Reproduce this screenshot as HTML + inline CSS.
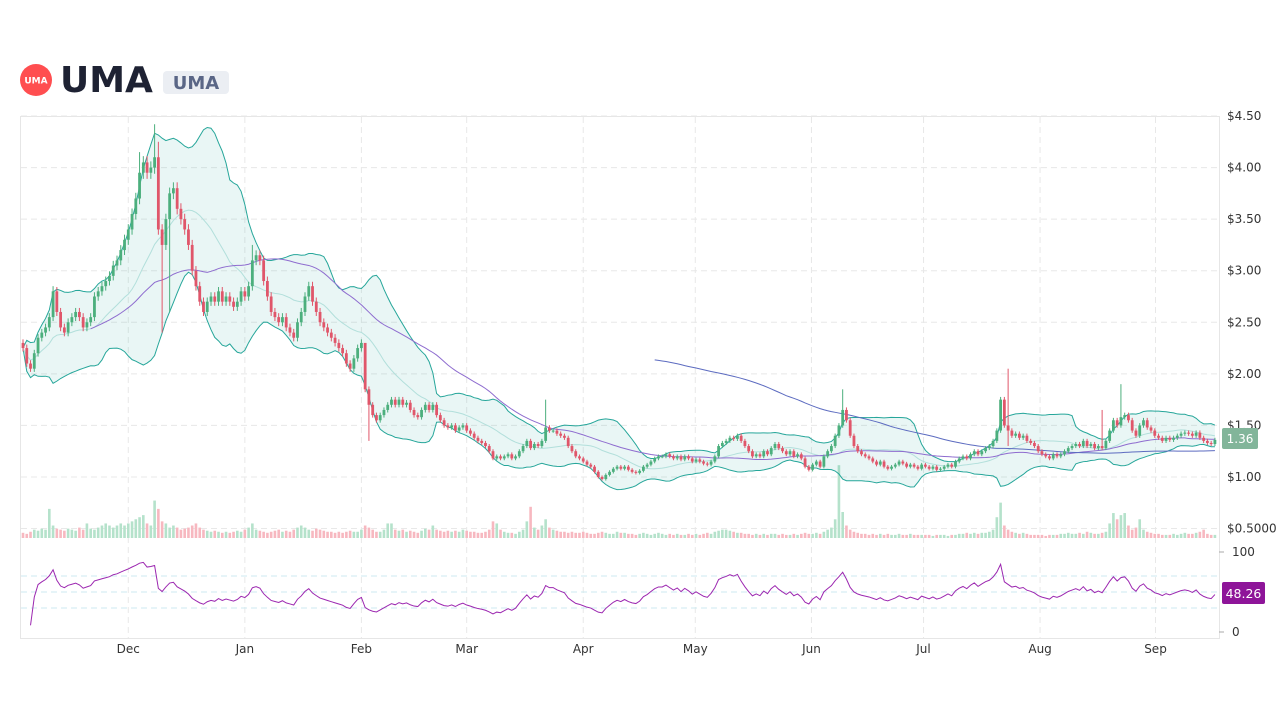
<!DOCTYPE html>
<html><head><meta charset="utf-8"><style>
body{margin:0;width:1280px;height:720px;background:#fff;overflow:hidden;font-family:"DejaVu Sans","Liberation Sans",sans-serif}
svg{position:absolute;left:0;top:0}
</style></head><body>
<svg id="c" width="1280" height="720">
<circle cx="36" cy="80" r="16" fill="#ff4e50"/>
<text x="36" y="83.5" font-size="9" font-weight="bold" fill="#fff" text-anchor="middle">UMA</text>
<text x="60" y="92" font-size="36" font-weight="bold" fill="#1e2233">UMA</text>
<rect x="163" y="71" width="66" height="23" rx="4" fill="#ebeef3"/>
<text x="196" y="89" font-size="18" font-weight="bold" fill="#5a6686" text-anchor="middle">UMA</text>
<rect x="20.5" y="116.5" width="1199" height="522" fill="none" stroke="#e6e6e6"/>
<g id="grid"></g><g id="vol"></g><g id="band"></g><g id="ma"></g><g id="candles"></g><g id="rsi"></g><g id="axes"></g>
</svg>
<script>
const closes=[2.25,2.1,2.05,2.2,2.35,2.4,2.45,2.55,2.8,2.6,
2.45,2.4,2.5,2.55,2.6,2.55,2.45,2.5,2.55,2.75,
2.8,2.85,2.9,2.95,3.05,3.1,3.2,3.3,3.4,3.55,
3.7,3.95,4.05,3.95,4.0,4.1,3.4,3.25,3.5,3.75,
3.8,3.6,3.5,3.4,3.25,3.0,2.85,2.7,2.6,2.7,
2.75,2.7,2.8,2.7,2.75,2.7,2.65,2.7,2.8,2.75,
2.85,3.1,3.15,3.1,2.9,2.75,2.6,2.55,2.5,2.55,
2.45,2.4,2.35,2.5,2.6,2.75,2.85,2.7,2.6,2.5,
2.45,2.4,2.35,2.3,2.25,2.2,2.1,2.05,2.15,2.25,
2.3,1.85,1.7,1.6,1.55,1.6,1.65,1.7,1.75,1.7,
1.75,1.7,1.72,1.65,1.6,1.58,1.65,1.7,1.65,1.7,
1.6,1.55,1.5,1.48,1.5,1.45,1.48,1.5,1.45,1.42,
1.38,1.35,1.33,1.3,1.25,1.18,1.2,1.18,1.2,1.22,
1.18,1.2,1.25,1.3,1.35,1.28,1.32,1.3,1.35,1.48,
1.45,1.45,1.42,1.4,1.38,1.3,1.25,1.2,1.18,1.15,
1.12,1.1,1.05,1.0,0.98,1.02,1.05,1.08,1.1,1.08,
1.1,1.07,1.05,1.04,1.06,1.1,1.12,1.15,1.18,1.2,
1.2,1.22,1.2,1.18,1.2,1.17,1.2,1.18,1.15,1.17,
1.15,1.13,1.12,1.15,1.2,1.3,1.33,1.35,1.38,1.37,
1.4,1.35,1.3,1.25,1.2,1.22,1.2,1.25,1.22,1.28,
1.32,1.28,1.25,1.22,1.25,1.2,1.22,1.18,1.1,1.07,
1.12,1.15,1.1,1.2,1.25,1.3,1.4,1.5,1.65,1.55,
1.4,1.3,1.25,1.22,1.2,1.18,1.15,1.12,1.15,1.1,
1.08,1.1,1.12,1.15,1.13,1.1,1.12,1.1,1.08,1.12,
1.1,1.08,1.1,1.07,1.08,1.1,1.12,1.1,1.15,1.18,
1.2,1.18,1.22,1.25,1.22,1.25,1.28,1.3,1.35,1.45,
1.75,1.5,1.45,1.4,1.42,1.38,1.4,1.35,1.33,1.3,
1.25,1.22,1.2,1.18,1.22,1.2,1.22,1.25,1.28,1.3,
1.32,1.3,1.35,1.3,1.32,1.28,1.3,1.28,1.35,1.45,
1.55,1.5,1.58,1.6,1.55,1.45,1.4,1.5,1.55,1.48,
1.45,1.4,1.38,1.35,1.38,1.36,1.38,1.4,1.42,1.43,
1.42,1.4,1.43,1.38,1.35,1.33,1.32,1.36];
const volumes=[5,4,6,8,7,9,8,28,12,9, 8,7,9,8,7,10,8,14,9,8, 10,12,14,12,10,12,14,12,14,16,
18,20,22,14,12,36,28,16,14,10, 12,10,8,9,10,12,14,10,8,7, 6,7,6,5,6,5,6,7,6,8,
10,14,8,7,6,5,6,7,8,6, 7,6,8,10,12,10,8,7,9,8, 7,6,6,5,6,5,6,7,6,6,
8,12,10,8,6,6,8,14,14,8, 7,8,6,7,6,5,7,9,8,12, 8,7,6,7,6,7,6,8,7,6,
6,5,5,6,8,16,14,8,6,5, 5,4,6,8,16,30,10,8,12,18, 10,8,7,6,6,5,6,5,5,6,
5,4,4,5,6,5,4,4,6,5, 5,4,4,3,4,5,4,3,4,5, 4,3,4,3,4,3,3,4,3,4,
3,4,5,4,6,7,8,8,7,6, 5,5,4,4,3,4,3,4,3,4, 4,3,4,3,3,4,3,4,5,4,
4,5,4,6,8,10,18,70,25,12, 8,6,5,4,4,3,4,3,4,3, 4,3,3,4,3,3,4,3,3,3,
3,3,2,3,3,3,2,3,3,4, 4,5,4,5,4,5,5,6,8,20, 34,12,8,6,5,4,5,4,3,3,
3,3,2,3,3,3,4,4,5,4, 4,5,4,6,5,4,4,5,6,14, 24,18,22,24,12,8,10,18,8,6,
5,4,4,3,3,3,4,3,4,5, 4,4,5,6,8,4,3,3];
const spikeIdx=[8,31,35,36,61,91,139,218,262,292,287];
const spikeHigh=[2.85,4.15,4.42,4.25,3.25,1.9,1.75,1.85,2.05,1.9,1.65];
const lowIdx=[37,39,92,262];
const lowVal=[2.4,2.6,1.35,1.3];
const priceTicks=[4.5,4.0,3.5,3.0,2.5,2.0,1.5,1.0,0.5];
const priceLabels=["$4.50","$4.00","$3.50","$3.00","$2.50","$2.00","$1.50","$1.00","$0.5000"];
const months=["Dec","Jan","Feb","Mar","Apr","May","Jun","Jul","Aug","Sep"];
const monthIdx=[28,59,90,118,149,178.8,209.7,239.5,270.5,301.2];
const rsiTicks=[100,0];
const lastPrice="1.36", lastRsi="48.26";

const NS="http://www.w3.org/2000/svg";
const X=i=>23+i*3.76;
const Y=p=>116+(4.5-p)*103.14;
const VY=v=>538-v*1.04;
const RY=r=>632-r*0.8;
function el(t,a,parent){const e=document.createElementNS(NS,t);for(const k in a)e.setAttribute(k,a[k]);document.getElementById(parent).appendChild(e);return e;}
const N=closes.length;
const opens=closes.map((c,i)=>i?closes[i-1]:c+0.05);
const highs=closes.map((c,i)=>Math.max(c,opens[i])*1.015);
const lows=closes.map((c,i)=>Math.min(c,opens[i])*0.985);
spikeIdx.forEach((k,j)=>highs[k]=spikeHigh[j]);
lowIdx.forEach((k,j)=>lows[k]=lowVal[j]);

priceTicks.forEach((p,j)=>{
 const g=el('line',{x1:21,x2:1219,y1:Y(p),y2:Y(p),stroke:'#e8e8e8','stroke-dasharray':'6 4'},'grid');
 
 const t=el('text',{x:1227,y:Y(p)+4,'font-size':12,fill:'#333'},'axes');t.textContent=priceLabels[j];
 
});
months.forEach((m,j)=>{
 const g=el('line',{x1:X(monthIdx[j]),x2:X(monthIdx[j]),y1:117,y2:638,stroke:'#e8e8e8','stroke-dasharray':'6 4'},'grid');
 
 const t=el('text',{x:X(monthIdx[j]),y:653,'font-size':12,fill:'#333','text-anchor':'middle'},'axes');t.textContent=m;
 
});
[70,50,30].forEach(r=>{const g=el('line',{x1:21,x2:1219,y1:RY(r),y2:RY(r),stroke:'#cdeaf0','stroke-dasharray':'6 4'},'grid');
 });
rsiTicks.forEach(r=>{const t=el('text',{x:1232,y:RY(r)+4,'font-size':12,fill:'#333'},'axes');t.textContent=String(r);
 
 el('line',{x1:1219,x2:1224,y1:RY(r),y2:RY(r),stroke:'#aaa'},'axes');});

volumes.forEach((v,i)=>{const up=closes[i]>=opens[i];
 const r=el('rect',{x:X(i)-1.3,y:VY(v),width:2.6,height:538-VY(v),fill:up?'#b5e2cb':'#f7b8c0'},'vol');
 });

const up=[],lo=[],mid=[];
for(let i=0;i<N;i++){const s=closes.slice(Math.max(0,i-19),i+1);const m=s.reduce((a,b)=>a+b,0)/s.length;
 const sd=Math.sqrt(s.reduce((a,b)=>a+(b-m)*(b-m),0)/s.length);mid.push(m);up.push(m+2*sd);lo.push(m-2*sd);}
const upPts=up.map((v,i)=>X(i)+','+Y(v)), loPts=lo.map((v,i)=>X(i)+','+Y(v));
let bf=el('polygon',{points:upPts.concat(loPts.slice().reverse()).join(' '),fill:'rgba(38,166,154,0.1)'},'band');

let bu=el('polyline',{points:upPts.join(' '),fill:'none',stroke:'#26a69a','stroke-width':1},'band');

let bl=el('polyline',{points:loPts.join(' '),fill:'none',stroke:'#26a69a','stroke-width':1},'band');

let bm=el('polyline',{points:mid.map((v,i)=>X(i)+','+Y(v)).join(' '),fill:'none',stroke:'#b2dfdb','stroke-width':1},'band');


function sma(w,start){const p=[];for(let i=start;i<N;i++){const s=closes.slice(Math.max(0,i-w+1),i+1);p.push(X(i)+','+Y(s.reduce((a,b)=>a+b,0)/s.length));}return p.join(' ');}
let m1=el('polyline',{points:sma(50,18),fill:'none',stroke:'#8e6ccf','stroke-width':1},'ma');

let m2=el('polyline',{points:sma(168,168),fill:'none',stroke:'#5c6bc0','stroke-width':1},'ma');


closes.forEach((c,i)=>{const o=opens[i];const upc=c>=o;const col=upc?'#4caf7d':'#e0566a';
 const w=el('line',{x1:X(i),x2:X(i),y1:Y(highs[i]),y2:Y(lows[i]),stroke:col,'stroke-width':1},'candles');
 
 const t=Y(Math.max(o,c)),b=Y(Math.min(o,c));
 const r=el('rect',{x:X(i)-1.4,y:t,width:2.8,height:Math.max(1,b-t),fill:col},'candles');
 });

const rsi=[];let ag=0.02,al=0.02;
for(let i=1;i<N;i++){const d=closes[i]-closes[i-1];const g=Math.max(d,0),l=Math.max(-d,0);
 if(i<=14){ag=(ag*(i)+g)/(i+1);al=(al*(i)+l)/(i+1);}else{ag=(ag*13+g)/14;al=(al*13+l)/14;}
 if(i>=2)rsi.push(X(i)+','+RY(al===0?100:100-100/(1+ag/al)));}
let rl=el('polyline',{points:rsi.join(' '),fill:'none',stroke:'#9c27b0','stroke-width':1},'rsi');


let lb=el('rect',{x:1222,y:428,width:36,height:21,rx:2,fill:'#82b59a'},'axes');

let lt=el('text',{x:1240,y:443,'font-size':12,fill:'#fff','text-anchor':'middle'},'axes');lt.textContent=lastPrice;

let rb=el('rect',{x:1222,y:582,width:43,height:22,rx:2,fill:'#8e1599'},'axes');

let rt=el('text',{x:1243.5,y:598,'font-size':12.5,fill:'#fff','text-anchor':'middle'},'axes');rt.textContent=lastRsi;

</script>
</body></html>
